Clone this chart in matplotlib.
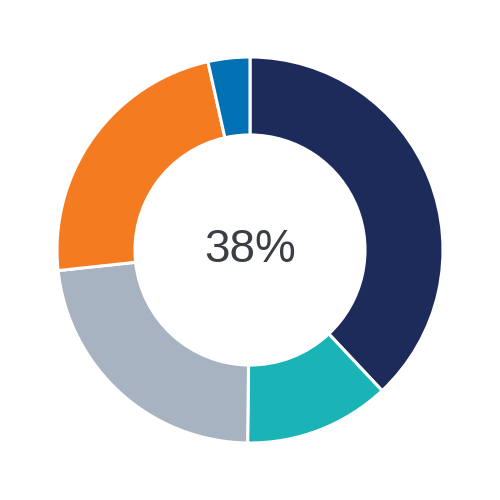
import matplotlib.pyplot as plt

# segment shares (percent), clockwise from 12 o'clock
labels = ['Segment A', 'Segment B', 'Segment C', 'Segment D', 'Segment E']
values = [38, 12.2, 23.1, 23.2, 3.5]
colors = ['#1c2b5a', '#1ab4b7', '#a8b3c2', '#f47b20', '#0271b4']
center_label = '38%'

fig = plt.figure(figsize=(5, 5), dpi=100)
ax = fig.add_axes([0, 0, 1, 1])

ax.pie(values, colors=colors, startangle=90, counterclock=False,
       radius=1.0,
       wedgeprops=dict(width=0.404, edgecolor='white', linewidth=2.2))

ax.text(0, 0.0, center_label, ha='center', va='center', fontsize=33,
        color='#3b3f45', family=['Liberation Sans', 'DejaVu Sans'])

lim = 250 / 193
ax.set_xlim(-lim, lim)
ax.set_ylim(-lim, lim)
ax.set_aspect('equal')
ax.axis('off')

fig.savefig('out.png', dpi=100, facecolor='white')
